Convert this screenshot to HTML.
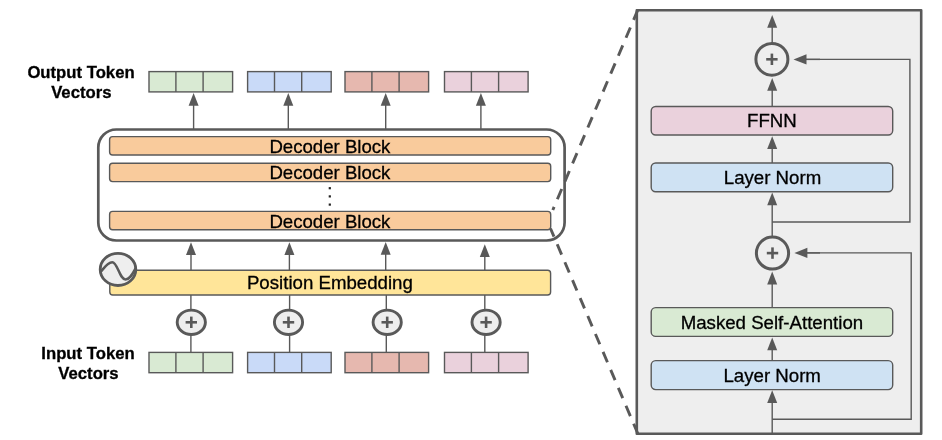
<!DOCTYPE html>
<html><head><meta charset="utf-8"><title>Decoder-only transformer</title>
<style>
html,body{margin:0;padding:0;background:#fff;}
body{width:942px;height:440px;overflow:hidden;}
svg{display:block;will-change:transform;font-family:"Liberation Sans",sans-serif;fill:#000;}
text{stroke:#000;stroke-width:0.3px;}
</style></head><body>
<svg width="942" height="440" viewBox="0 0 942 440">
<rect x="0" y="0" width="942" height="440" fill="#ffffff"/>
<rect x="636.8" y="10.3" width="284.4" height="423.4" fill="#eeeeee" stroke="#595959" stroke-width="2.6" stroke-linejoin="round"/>
<rect x="149.0" y="71.6" width="83.6" height="20.3" fill="#d9ead3" stroke="#595959" stroke-width="1.4"/><line x1="175.9" y1="71.6" x2="175.9" y2="91.89999999999999" stroke="#595959" stroke-width="1.4"/><line x1="203.1" y1="71.6" x2="203.1" y2="91.89999999999999" stroke="#595959" stroke-width="1.4"/>
<rect x="149.0" y="352.4" width="83.6" height="20.3" fill="#d9ead3" stroke="#595959" stroke-width="1.4"/><line x1="175.9" y1="352.4" x2="175.9" y2="372.7" stroke="#595959" stroke-width="1.4"/><line x1="203.1" y1="352.4" x2="203.1" y2="372.7" stroke="#595959" stroke-width="1.4"/>
<rect x="247.6" y="71.6" width="83.6" height="20.3" fill="#c9daf8" stroke="#595959" stroke-width="1.4"/><line x1="274.5" y1="71.6" x2="274.5" y2="91.89999999999999" stroke="#595959" stroke-width="1.4"/><line x1="301.7" y1="71.6" x2="301.7" y2="91.89999999999999" stroke="#595959" stroke-width="1.4"/>
<rect x="247.6" y="352.4" width="83.6" height="20.3" fill="#c9daf8" stroke="#595959" stroke-width="1.4"/><line x1="274.5" y1="352.4" x2="274.5" y2="372.7" stroke="#595959" stroke-width="1.4"/><line x1="301.7" y1="352.4" x2="301.7" y2="372.7" stroke="#595959" stroke-width="1.4"/>
<rect x="345.0" y="71.6" width="83.6" height="20.3" fill="#e6b8af" stroke="#595959" stroke-width="1.4"/><line x1="371.9" y1="71.6" x2="371.9" y2="91.89999999999999" stroke="#595959" stroke-width="1.4"/><line x1="399.1" y1="71.6" x2="399.1" y2="91.89999999999999" stroke="#595959" stroke-width="1.4"/>
<rect x="345.0" y="352.4" width="83.6" height="20.3" fill="#e6b8af" stroke="#595959" stroke-width="1.4"/><line x1="371.9" y1="352.4" x2="371.9" y2="372.7" stroke="#595959" stroke-width="1.4"/><line x1="399.1" y1="352.4" x2="399.1" y2="372.7" stroke="#595959" stroke-width="1.4"/>
<rect x="444.5" y="71.6" width="83.6" height="20.3" fill="#ead1dc" stroke="#595959" stroke-width="1.4"/><line x1="471.4" y1="71.6" x2="471.4" y2="91.89999999999999" stroke="#595959" stroke-width="1.4"/><line x1="498.6" y1="71.6" x2="498.6" y2="91.89999999999999" stroke="#595959" stroke-width="1.4"/>
<rect x="444.5" y="352.4" width="83.6" height="20.3" fill="#ead1dc" stroke="#595959" stroke-width="1.4"/><line x1="471.4" y1="352.4" x2="471.4" y2="372.7" stroke="#595959" stroke-width="1.4"/><line x1="498.6" y1="352.4" x2="498.6" y2="372.7" stroke="#595959" stroke-width="1.4"/>
<line x1="193.6" y1="104.8" x2="193.6" y2="129.5" stroke="#595959" stroke-width="1.4"/><polygon points="193.6,93.0 188.6,105.8 198.6,105.8" fill="#595959"/>
<line x1="288.3" y1="104.8" x2="288.3" y2="129.5" stroke="#595959" stroke-width="1.4"/><polygon points="288.3,93.0 283.3,105.8 293.3,105.8" fill="#595959"/>
<line x1="385.7" y1="104.8" x2="385.7" y2="129.5" stroke="#595959" stroke-width="1.4"/><polygon points="385.7,93.0 380.7,105.8 390.7,105.8" fill="#595959"/>
<line x1="480.9" y1="104.8" x2="480.9" y2="129.5" stroke="#595959" stroke-width="1.4"/><polygon points="480.9,93.0 475.9,105.8 485.9,105.8" fill="#595959"/>
<rect x="98.3" y="129.5" width="466.3" height="111" rx="18" ry="18" fill="#ffffff" stroke="#595959" stroke-width="2.7"/>
<rect x="109.6" y="136.6" width="441.1" height="18.4" rx="3" ry="3" fill="#f9cb9c" stroke="#595959" stroke-width="1.4"/>
<text x="329.9" y="153.0" font-size="18.6" font-weight="normal" text-anchor="middle">Decoder Block</text>
<rect x="109.6" y="163.2" width="441.1" height="18.4" rx="3" ry="3" fill="#f9cb9c" stroke="#595959" stroke-width="1.4"/>
<text x="329.9" y="179.4" font-size="18.6" font-weight="normal" text-anchor="middle">Decoder Block</text>
<rect x="109.6" y="211.4" width="441.1" height="18.4" rx="3" ry="3" fill="#f9cb9c" stroke="#595959" stroke-width="1.4"/>
<text x="329.9" y="227.8" font-size="18.6" font-weight="normal" text-anchor="middle">Decoder Block</text>
<rect x="328.7" y="187.1" width="2.2" height="2.2" fill="#222"/>
<rect x="328.7" y="195.3" width="2.2" height="2.2" fill="#222"/>
<rect x="328.7" y="203.5" width="2.2" height="2.2" fill="#222"/>
<line x1="638" y1="9.5" x2="552.8" y2="210" stroke="#595959" stroke-width="2.9" stroke-dasharray="11.2 8.3"/>
<line x1="638" y1="434" x2="550.5" y2="228.5" stroke="#595959" stroke-width="2.9" stroke-dasharray="11.2 8.3"/>
<line x1="191" y1="254.0" x2="191" y2="270.3" stroke="#595959" stroke-width="1.4"/><polygon points="191,242.2 186.0,255.0 196.0,255.0" fill="#595959"/>
<line x1="289.4" y1="254.0" x2="289.4" y2="270.3" stroke="#595959" stroke-width="1.4"/><polygon points="289.4,242.2 284.4,255.0 294.4,255.0" fill="#595959"/>
<line x1="385.7" y1="253.8" x2="385.7" y2="270.3" stroke="#595959" stroke-width="1.4"/><polygon points="385.7,242.0 380.7,254.8 390.7,254.8" fill="#595959"/>
<line x1="484.8" y1="256.0" x2="484.8" y2="270.3" stroke="#595959" stroke-width="1.4"/><polygon points="484.8,244.2 479.8,257.0 489.8,257.0" fill="#595959"/>
<rect x="109.8" y="270.3" width="440.8" height="24.7" rx="3" ry="3" fill="#ffe599" stroke="#595959" stroke-width="1.4"/>
<text x="329.9" y="289.4" font-size="18.67" font-weight="normal" text-anchor="middle">Position Embedding</text>
<ellipse cx="118" cy="269.4" rx="17.8" ry="16.1" fill="#eeeeee" stroke="#595959" stroke-width="2.8"/>
<path d="M 100.8 271.8 C 104 268, 107.5 262.2, 112.3 262.2 C 117.5 262.2, 119.5 279.4, 125.5 279.4 C 130 279.4, 132.5 274, 135.7 268" fill="none" stroke="#595959" stroke-width="2.5"/>
<line x1="190.9" y1="295" x2="190.9" y2="352.4" stroke="#595959" stroke-width="1.4"/>
<ellipse cx="191.3" cy="322.3" rx="14.1" ry="12.2" fill="#eeeeee" stroke="#595959" stroke-width="2.9"/><line x1="185.60000000000002" y1="322.3" x2="197.0" y2="322.3" stroke="#595959" stroke-width="2.6"/><line x1="191.3" y1="316.6" x2="191.3" y2="328.0" stroke="#595959" stroke-width="2.6"/>
<line x1="289.6" y1="295" x2="289.6" y2="352.4" stroke="#595959" stroke-width="1.4"/>
<ellipse cx="288.5" cy="322.3" rx="14.1" ry="12.2" fill="#eeeeee" stroke="#595959" stroke-width="2.9"/><line x1="282.8" y1="322.3" x2="294.2" y2="322.3" stroke="#595959" stroke-width="2.6"/><line x1="288.5" y1="316.6" x2="288.5" y2="328.0" stroke="#595959" stroke-width="2.6"/>
<line x1="386.3" y1="295" x2="386.3" y2="352.4" stroke="#595959" stroke-width="1.4"/>
<ellipse cx="387.2" cy="322.3" rx="14.1" ry="12.2" fill="#eeeeee" stroke="#595959" stroke-width="2.9"/><line x1="381.5" y1="322.3" x2="392.9" y2="322.3" stroke="#595959" stroke-width="2.6"/><line x1="387.2" y1="316.6" x2="387.2" y2="328.0" stroke="#595959" stroke-width="2.6"/>
<line x1="484.8" y1="295" x2="484.8" y2="352.4" stroke="#595959" stroke-width="1.4"/>
<ellipse cx="486.1" cy="322.3" rx="14.1" ry="12.2" fill="#eeeeee" stroke="#595959" stroke-width="2.9"/><line x1="480.40000000000003" y1="322.3" x2="491.8" y2="322.3" stroke="#595959" stroke-width="2.6"/><line x1="486.1" y1="316.6" x2="486.1" y2="328.0" stroke="#595959" stroke-width="2.6"/>
<text x="81" y="77.5" font-size="16.7" font-weight="bold" text-anchor="middle">Output Token</text>
<text x="81.3" y="97.6" font-size="16.7" font-weight="bold" text-anchor="middle">Vectors</text>
<text x="88" y="358.9" font-size="16.7" font-weight="bold" text-anchor="middle">Input Token</text>
<text x="88.5" y="378.6" font-size="16.7" font-weight="bold" text-anchor="middle">Vectors</text>
<line x1="772.2" y1="26.8" x2="772.2" y2="43" stroke="#595959" stroke-width="1.4"/><polygon points="772.2,15.0 767.2,27.8 777.2,27.8" fill="#595959"/>
<ellipse cx="771.9" cy="59.3" rx="16" ry="15.9" fill="#eeeeee" stroke="#595959" stroke-width="3"/><line x1="766.1999999999999" y1="59.3" x2="777.6" y2="59.3" stroke="#595959" stroke-width="2.6"/><line x1="771.9" y1="53.599999999999994" x2="771.9" y2="65.0" stroke="#595959" stroke-width="2.6"/>
<line x1="772.2" y1="89.8" x2="772.2" y2="106.5" stroke="#595959" stroke-width="1.4"/><polygon points="772.2,78.0 767.2,90.8 777.2,90.8" fill="#595959"/>
<rect x="651.2" y="106.5" width="241.5" height="28.5" rx="4.5" ry="4.5" fill="#ead1dc" stroke="#595959" stroke-width="1.4"/>
<text x="771.9" y="127.2" font-size="18.67" font-weight="normal" text-anchor="middle">FFNN</text>
<line x1="772.2" y1="148.0" x2="772.2" y2="163" stroke="#595959" stroke-width="1.4"/><polygon points="772.2,136.2 767.2,149.0 777.2,149.0" fill="#595959"/>
<rect x="651.2" y="163" width="241.5" height="28.8" rx="4.5" ry="4.5" fill="#cfe2f3" stroke="#595959" stroke-width="1.4"/>
<text x="772.5" y="184.1" font-size="18.67" font-weight="normal" text-anchor="middle">Layer Norm</text>
<line x1="772.2" y1="204.2" x2="772.2" y2="236" stroke="#595959" stroke-width="1.4"/><polygon points="772.2,192.39999999999998 767.2,205.2 777.2,205.2" fill="#595959"/>
<polyline points="772.2,222.0 909.9,222.0 909.9,59.4 805,59.4" fill="none" stroke="#595959" stroke-width="1.4"/>
<line x1="805.5" y1="59.4" x2="820" y2="59.4" stroke="#595959" stroke-width="1.4"/><polygon points="793.5,59.4 806.5,54.3 806.5,64.5" fill="#595959"/>
<ellipse cx="772.5" cy="253.1" rx="16.1" ry="16.0" fill="#eeeeee" stroke="#595959" stroke-width="3"/><line x1="766.8" y1="253.1" x2="778.2" y2="253.1" stroke="#595959" stroke-width="2.6"/><line x1="772.5" y1="247.4" x2="772.5" y2="258.8" stroke="#595959" stroke-width="2.6"/>
<line x1="772.2" y1="283.4" x2="772.2" y2="307.6" stroke="#595959" stroke-width="1.4"/><polygon points="772.2,271.59999999999997 767.2,284.4 777.2,284.4" fill="#595959"/>
<rect x="651.2" y="307.6" width="241.5" height="28.8" rx="4.5" ry="4.5" fill="#d9ead3" stroke="#595959" stroke-width="1.4"/>
<text x="771.9" y="328.6" font-size="18.67" font-weight="normal" text-anchor="middle">Masked Self-Attention</text>
<line x1="772.2" y1="349.2" x2="772.2" y2="360.6" stroke="#595959" stroke-width="1.4"/><polygon points="772.2,337.4 767.2,350.2 777.2,350.2" fill="#595959"/>
<rect x="651.2" y="360.6" width="241.5" height="29" rx="4.5" ry="4.5" fill="#cfe2f3" stroke="#595959" stroke-width="1.4"/>
<text x="772.2" y="381.8" font-size="18.67" font-weight="normal" text-anchor="middle">Layer Norm</text>
<line x1="772.2" y1="402.1" x2="772.2" y2="433.7" stroke="#595959" stroke-width="1.4"/><polygon points="772.2,390.3 767.2,403.1 777.2,403.1" fill="#595959"/>
<polyline points="772.2,419.3 911.2,419.3 911.2,252.9 806,252.9" fill="none" stroke="#595959" stroke-width="1.4"/>
<line x1="806.4" y1="252.9" x2="820" y2="252.9" stroke="#595959" stroke-width="1.4"/><polygon points="794.4,252.9 807.4,247.8 807.4,258.0" fill="#595959"/>
</svg>
</body></html>
